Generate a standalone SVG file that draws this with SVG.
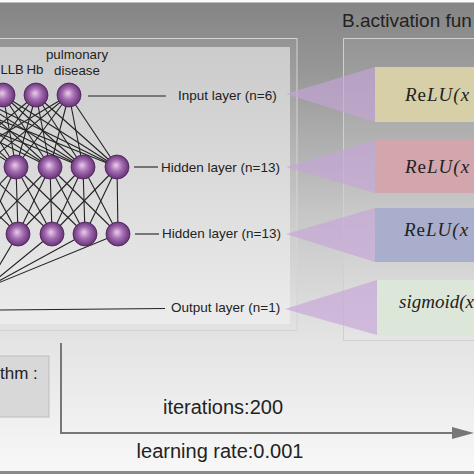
<svg xmlns="http://www.w3.org/2000/svg" width="474" height="474" viewBox="0 0 474 474">
<defs>
<linearGradient id="bg" x1="0" y1="0" x2="0" y2="1">
<stop offset="0" stop-color="#848484"/>
<stop offset="0.15" stop-color="#979797"/>
<stop offset="0.45" stop-color="#c6c6c6"/>
<stop offset="0.72" stop-color="#e4e4e4"/>
<stop offset="1" stop-color="#f8f8f8"/>
</linearGradient>
<linearGradient id="pa" x1="0" y1="0" x2="0" y2="1">
<stop offset="0" stop-color="#cbcbcb"/>
<stop offset="1" stop-color="#ececec"/>
</linearGradient>
<radialGradient id="ball" cx="0.5" cy="0.5" r="0.55" fx="0.45" fy="0.42">
<stop offset="0" stop-color="#eacdea"/>
<stop offset="0.45" stop-color="#a56db2"/>
<stop offset="1" stop-color="#5b2a6b"/>
</radialGradient>
<marker id="arr" markerWidth="11" markerHeight="6" refX="0" refY="3" orient="auto" markerUnits="strokeWidth">
<path d="M0,0 L11,3 L0,6 Z" fill="#777"/>
</marker>
<style>
.n{fill:url(#ball);stroke:#4a2058;stroke-width:0.8}
.c line{stroke:#222;stroke-width:1.1}
.t{font-family:"Liberation Sans",Arial,sans-serif;fill:#222}
.lbl{font-family:"Liberation Sans",Arial,sans-serif;font-size:13.5px;fill:#222}
.tri{fill:#c6a4d8;opacity:0.65}
.f{font-family:"Liberation Serif","Times New Roman",serif;font-size:19px;font-style:italic;fill:#222}
</style>
</defs>
<rect x="0" y="0" width="474" height="474" fill="url(#bg)"/>
<rect x="0" y="0" width="474" height="2.5" fill="#fafafa"/>
<rect x="0" y="471" width="474" height="3" fill="#8a8a8a"/>

<!-- panel A -->
<rect x="-10" y="38.5" width="307" height="292" fill="#ffffff" fill-opacity="0.06" stroke="#d4d4d4" stroke-width="1"/>
<rect x="-10" y="47" width="300" height="277" fill="url(#pa)"/>
<!-- panel B -->
<rect x="343.5" y="38.5" width="140" height="302" fill="#ffffff" fill-opacity="0.06" stroke="#d0d0d0" stroke-width="1"/>
<text class="t" x="342" y="27" font-size="19">B.activation fun</text>

<!-- connectors -->
<g id="connectors" class="c">
<line x1="69" y1="95" x2="117" y2="167"/><line x1="69" y1="95" x2="83" y2="167"/><line x1="69" y1="95" x2="50" y2="167"/><line x1="69" y1="95" x2="16" y2="167"/><line x1="69" y1="95" x2="-18" y2="167"/><line x1="69" y1="95" x2="-52" y2="167"/>
<line x1="36" y1="95" x2="117" y2="167"/><line x1="36" y1="95" x2="83" y2="167"/><line x1="36" y1="95" x2="50" y2="167"/><line x1="36" y1="95" x2="16" y2="167"/><line x1="36" y1="95" x2="-18" y2="167"/><line x1="36" y1="95" x2="-52" y2="167"/>
<line x1="3" y1="95" x2="117" y2="167"/><line x1="3" y1="95" x2="83" y2="167"/><line x1="3" y1="95" x2="50" y2="167"/><line x1="3" y1="95" x2="16" y2="167"/><line x1="3" y1="95" x2="-18" y2="167"/>
<line x1="-30" y1="95" x2="117" y2="167"/><line x1="-30" y1="95" x2="83" y2="167"/><line x1="-30" y1="95" x2="50" y2="167"/><line x1="-30" y1="95" x2="16" y2="167"/>
<line x1="-63" y1="95" x2="117" y2="167"/><line x1="-63" y1="95" x2="83" y2="167"/><line x1="-63" y1="95" x2="50" y2="167"/><line x1="-63" y1="95" x2="16" y2="167"/>
<line x1="-96" y1="95" x2="83" y2="167"/><line x1="-96" y1="95" x2="50" y2="167"/><line x1="-96" y1="95" x2="16" y2="167"/>

<line x1="117" y1="167" x2="118" y2="234"/><line x1="117" y1="167" x2="85" y2="234"/><line x1="117" y1="167" x2="52" y2="234"/>
<line x1="83" y1="167" x2="118" y2="234"/><line x1="83" y1="167" x2="85" y2="234"/><line x1="83" y1="167" x2="52" y2="234"/><line x1="83" y1="167" x2="18" y2="234"/>
<line x1="50" y1="167" x2="118" y2="234"/><line x1="50" y1="167" x2="85" y2="234"/><line x1="50" y1="167" x2="52" y2="234"/><line x1="50" y1="167" x2="18" y2="234"/><line x1="50" y1="167" x2="-15" y2="234"/>
<line x1="16" y1="167" x2="85" y2="234"/><line x1="16" y1="167" x2="52" y2="234"/><line x1="16" y1="167" x2="18" y2="234"/><line x1="16" y1="167" x2="-15" y2="234"/><line x1="16" y1="167" x2="-48" y2="234"/>
<line x1="-18" y1="167" x2="52" y2="234"/><line x1="-18" y1="167" x2="18" y2="234"/><line x1="-18" y1="167" x2="-15" y2="234"/>
<line x1="-52" y1="167" x2="18" y2="234"/>

<line x1="118" y1="234" x2="-14" y2="288"/><line x1="85" y1="234" x2="-14" y2="288"/><line x1="52" y1="234" x2="-14" y2="288"/><line x1="18" y1="234" x2="-14" y2="288"/>

<line x1="88" y1="96" x2="166" y2="96"/>
<line x1="134" y1="167" x2="158" y2="167"/>
<line x1="135" y1="234" x2="159" y2="234"/>
<line x1="0" y1="310" x2="165" y2="308.5"/>
</g>

<!-- input layer -->
<g id="input-layer">
<circle class="n" cx="-30" cy="95" r="12"/>
<circle class="n" cx="3" cy="95" r="12"/>
<circle class="n" cx="36" cy="95" r="12"/>
<circle class="n" cx="69" cy="95" r="12"/>
<text class="t" x="0.5" y="74" font-size="13">LLB</text>
<text class="t" x="35" y="74" font-size="13.3" text-anchor="middle">Hb</text>
<text class="t" x="77" y="59" font-size="13.3" text-anchor="middle">pulmonary</text>
<text class="t" x="77" y="75" font-size="13.3" text-anchor="middle">disease</text>
</g>
<g id="hidden-layer-1">
<circle class="n" cx="16" cy="167" r="12"/>
<circle class="n" cx="50" cy="167" r="12"/>
<circle class="n" cx="83" cy="167" r="12"/>
<circle class="n" cx="117" cy="167" r="12"/>
</g>
<g id="hidden-layer-2">
<circle class="n" cx="18" cy="234" r="12"/>
<circle class="n" cx="52" cy="234" r="12"/>
<circle class="n" cx="85" cy="234" r="12"/>
<circle class="n" cx="118" cy="234" r="12"/>
</g>

<g id="label-input"><text class="lbl" x="178" y="100">Input layer (n=6)</text></g>
<g id="label-hidden1"><text class="lbl" x="161" y="172">Hidden layer (n=13)</text></g>
<g id="label-hidden2"><text class="lbl" x="162" y="238">Hidden layer (n=13)</text></g>
<g id="label-output"><text class="lbl" x="171" y="312">Output layer (n=1)</text></g>

<!-- triangles -->
<g id="pointers">
<polygon class="tri" points="286,94 375,67 375,122"/>
<polygon class="tri" points="286,167 375,140 375,193"/>
<polygon class="tri" points="286,234 375,208 375,262"/>
<polygon class="tri" points="285,309 377,280 377,335"/>
</g>

<g id="act-1"><rect x="375" y="67" width="110" height="55" fill="#d6cfa7"/><text class="f" x="405" y="101" letter-spacing="1">R<tspan font-style="normal">e</tspan>LU(x</text></g>
<g id="act-2"><rect x="375" y="140" width="110" height="53" fill="#d3a5ad"/><text class="f" x="405" y="173" letter-spacing="1">R<tspan font-style="normal">e</tspan>LU(x</text></g>
<g id="act-3"><rect x="375" y="208" width="110" height="54" fill="#a8aecb"/><text class="f" x="404" y="236" letter-spacing="1">R<tspan font-style="normal">e</tspan>LU(x</text></g>
<g id="act-4"><rect x="377" y="280" width="110" height="55" fill="#dce7d9"/><text class="f" x="399" y="308" font-size="18.5">sigmoid(x</text></g>

<!-- algorithm -->
<g id="algorithm"><rect x="-10" y="356" width="59" height="61" fill="#d8d8d8" stroke="#bdbdbd"/><text class="t" x="0" y="379" font-size="17">thm :</text></g>

<g id="axes">
<line x1="61" y1="343" x2="61" y2="434" stroke="#777" stroke-width="2"/>
<line x1="60" y1="433" x2="452" y2="433" stroke="#777" stroke-width="2" marker-end="url(#arr)"/>
</g>
<text class="t" x="223" y="414" font-size="20" text-anchor="middle">iterations:200</text>
<text class="t" x="220" y="458" font-size="20" text-anchor="middle">learning rate:0.001</text>
</svg>
